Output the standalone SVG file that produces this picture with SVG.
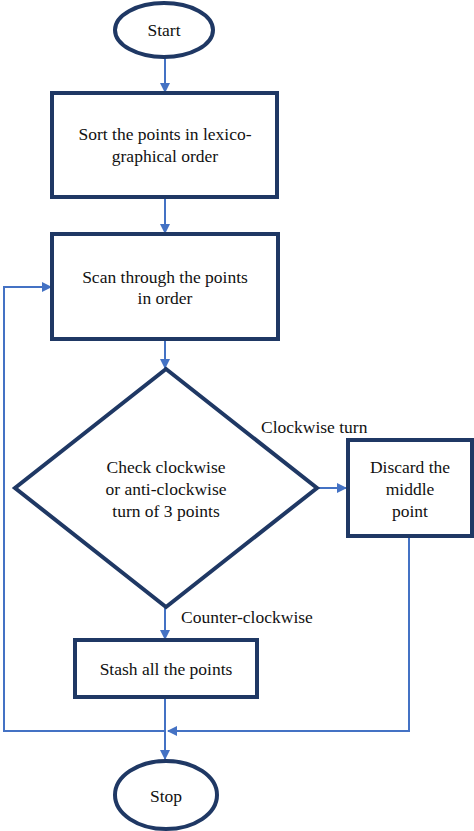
<svg xmlns="http://www.w3.org/2000/svg" width="474" height="831" viewBox="0 0 474 831">
<style>
.n{fill:#fff;stroke:#1f3864;stroke-width:4}
.c{fill:none;stroke:#4472c4;stroke-width:2}
.t text{font-size:17.5px;fill:#111;text-anchor:middle}
.t .l{text-anchor:start}
</style>
<defs>
<marker id="a" markerWidth="10" markerHeight="10" refX="9" refY="5" orient="auto" markerUnits="userSpaceOnUse"><path d="M0,0L10,5L0,10z" fill="#4472c4"/></marker>
</defs>
<rect width="474" height="831" fill="#fff"/>
<g id="connectors">
<path class="c" d="M165,58V92" marker-end="url(#a)"/>
<path class="c" d="M165,198V233" marker-end="url(#a)"/>
<path class="c" d="M165,340V368" marker-end="url(#a)"/>
<path class="c" d="M318,488H346" marker-end="url(#a)"/>
<path class="c" d="M165,608V639" marker-end="url(#a)"/>
<path class="c" d="M165,698V759" marker-end="url(#a)"/>
<path class="c" d="M409,537V731H168" marker-end="url(#a)"/>
<path class="c" d="M165,731H4V287H51" marker-end="url(#a)"/>
</g>
<g class="t" font-family="Liberation Serif, Times New Roman, Times, DejaVu Serif, serif">
<g id="start">
<ellipse class="n" cx="164" cy="30" rx="49" ry="27"/>
<text x="164" y="36">Start</text>
</g>
<g id="sort">
<rect class="n" x="52" y="93" width="225" height="104"/>
<text x="165" y="140">Sort the points in lexico-</text>
<text x="165" y="162">graphical order</text>
</g>
<g id="scan">
<rect class="n" x="52" y="234" width="226" height="105"/>
<text x="165" y="283">Scan through the points</text>
<text x="165" y="304">in order</text>
</g>
<g id="check">
<path class="n" d="M166,369L317,488L166,607L15,488z"/>
<text x="166" y="473">Check clockwise</text>
<text x="166" y="495">or anti-clockwise</text>
<text x="166" y="517">turn of 3 points</text>
</g>
<g id="discard">
<rect class="n" x="348" y="440" width="124" height="96"/>
<text x="410" y="473">Discard the</text>
<text x="410" y="495">middle</text>
<text x="410" y="517">point</text>
</g>
<g id="stash">
<rect class="n" x="75" y="640" width="182" height="57"/>
<text x="166" y="675">Stash all the points</text>
</g>
<g id="stop">
<ellipse class="n" cx="166" cy="795" rx="51" ry="34"/>
<text x="166" y="802">Stop</text>
</g>
<text class="l" x="261" y="433">Clockwise turn</text>
<text class="l" x="181" y="623">Counter-clockwise</text>
</g>
</svg>
